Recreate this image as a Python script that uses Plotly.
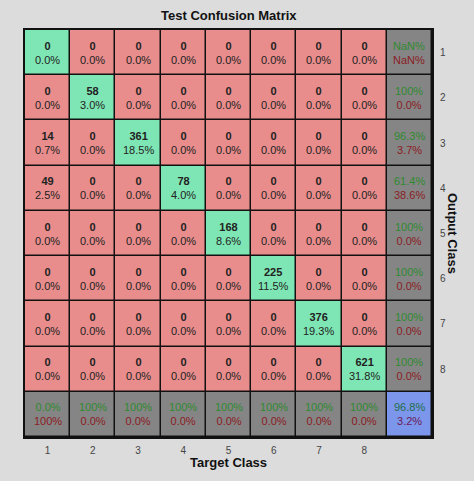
import plotly.graph_objects as go

classes = ["1", "2", "3", "4", "5", "6", "7", "8"]
# rows = Output Class, columns = Target Class
counts = [
    [0, 0, 0, 0, 0, 0, 0, 0],
    [0, 58, 0, 0, 0, 0, 0, 0],
    [14, 0, 361, 0, 0, 0, 0, 0],
    [49, 0, 0, 78, 0, 0, 0, 0],
    [0, 0, 0, 0, 168, 0, 0, 0],
    [0, 0, 0, 0, 0, 225, 0, 0],
    [0, 0, 0, 0, 0, 0, 376, 0],
    [0, 0, 0, 0, 0, 0, 0, 621],
]
row_correct = ["NaN%", "100%", "96.3%", "61.4%", "100%", "100%", "100%", "100%"]
row_wrong = ["NaN%", "0.0%", "3.7%", "38.6%", "0.0%", "0.0%", "0.0%", "0.0%"]
col_correct = ["0.0%", "100%", "100%", "100%", "100%", "100%", "100%", "100%"]
col_wrong = ["100%", "0.0%", "0.0%", "0.0%", "0.0%", "0.0%", "0.0%", "0.0%"]
overall_correct = "96.8%"
overall_wrong = "3.2%"

n = len(classes)
total = sum(sum(r) for r in counts)

RED = "#e88c8c"
GREEN = "#7ee6b4"
GRAY = "#858585"
BLUE = "#7b96ea"
TXT_G = "#2f8a2f"
TXT_R = "#8b1c24"
FONT = "Liberation Sans"

# category codes: 0 red, 1 green, 2 gray, 3 blue
z = []
for i in range(n + 1):
    row = []
    for j in range(n + 1):
        if i == n and j == n:
            row.append(3)
        elif i == n or j == n:
            row.append(2)
        elif i == j:
            row.append(1)
        else:
            row.append(0)
    z.append(row)

xs = list(range(1, n + 2))
ys = list(range(1, n + 2))

fig = go.Figure(go.Heatmap(
    z=z, x=xs, y=ys,
    zmin=0, zmax=3,
    colorscale=[[0, RED], [0.25, RED], [0.25, GREEN], [0.5, GREEN],
                [0.5, GRAY], [0.75, GRAY], [0.75, BLUE], [1, BLUE]],
    showscale=False, xgap=1.5, ygap=1.5, hoverinfo="skip",
))

ann = []
for i in range(n):
    for j in range(n):
        c = counts[i][j]
        pct = 100.0 * c / total
        ann.append(dict(x=j + 1, y=i + 1, xref="x", yref="y", showarrow=False,
                        text=f"<b>{c}</b><br>{pct:.1f}%",
                        font=dict(family=FONT, size=11, color="#222222")))
for i in range(n):
    ann.append(dict(x=n + 1, y=i + 1, xref="x", yref="y", showarrow=False,
                    text=f"<span style='color:{TXT_G}'>{row_correct[i]}</span><br>"
                         f"<span style='color:{TXT_R}'>{row_wrong[i]}</span>",
                    font=dict(family=FONT, size=11)))
for j in range(n):
    ann.append(dict(x=j + 1, y=n + 1, xref="x", yref="y", showarrow=False,
                    text=f"<span style='color:{TXT_G}'>{col_correct[j]}</span><br>"
                         f"<span style='color:{TXT_R}'>{col_wrong[j]}</span>",
                    font=dict(family=FONT, size=11)))
ann.append(dict(x=n + 1, y=n + 1, xref="x", yref="y", showarrow=False,
                text=f"<span style='color:#1f6e4a'>{overall_correct}</span><br>"
                     f"<span style='color:#6a1a5a'>{overall_wrong}</span>",
                font=dict(family=FONT, size=11)))

ann.append(dict(x=0.5, y=1, xref="paper", yref="paper", yanchor="bottom",
                yshift=5, showarrow=False, text="<b>Test Confusion Matrix</b>",
                font=dict(family=FONT, size=13, color="#111111")))
ann.append(dict(x=0.5, y=0, xref="paper", yref="paper", yanchor="top",
                yshift=-16, showarrow=False, text="<b>Target Class</b>",
                font=dict(family=FONT, size=13, color="#111111")))
ann.append(dict(x=1, y=0.5, xref="paper", yref="paper", xanchor="left",
                xshift=11, showarrow=False, textangle=90, text="<b>Output Class</b>",
                font=dict(family=FONT, size=13, color="#111111")))

fig.update_layout(
    width=474, height=481,
    margin=dict(l=25, r=42, t=30, b=44),
    paper_bgcolor="#dcdcdc", plot_bgcolor="#111111",
    annotations=ann,
    xaxis=dict(range=[0.5, n + 1.5], tickvals=list(range(1, n + 1)), ticktext=classes,
               showgrid=False, zeroline=False, ticks="", ticklabelstandoff=3,
               showline=True, linecolor="#111", linewidth=2, mirror=True,
               tickfont=dict(family=FONT, size=10, color="#444444")),
    yaxis=dict(range=[n + 1.5, 0.5], tickvals=list(range(1, n + 1)), ticktext=classes,
               side="right", showgrid=False, zeroline=False, ticks="", ticklabelstandoff=4,
               showline=True, linecolor="#111", linewidth=2, mirror=True,
               tickfont=dict(family=FONT, size=10, color="#444444")),
)

fig.write_html("out.html")
